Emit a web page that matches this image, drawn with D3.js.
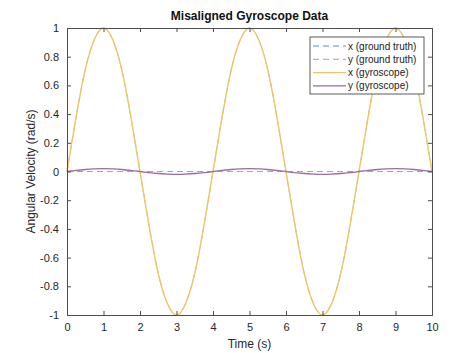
<!DOCTYPE html>
<html>
<head>
<meta charset="utf-8">
<script src="https://cdn.jsdelivr.net/npm/d3@7"></script>
<style>
  html, body { margin: 0; padding: 0; background: #fff; }
  svg { display: block; font-family: "Liberation Sans", Arial, sans-serif; }
</style>
</head>
<body>
<div id="chart"></div>
<script>
'use strict';

const time = d3.range(0, 10.001, 0.25);
const xGyro = [
  0, 0.38, 0.71, 0.92, 1, 0.92, 0.71, 0.38, 0, -0.38, -0.71, -0.92, -1, -0.92, -0.71, -0.38,
  0, 0.38, 0.71, 0.92, 1, 0.92, 0.71, 0.38, 0, -0.38, -0.71, -0.92, -1, -0.92, -0.71, -0.38,
  0, 0.38, 0.71, 0.92, 1, 0.92, 0.71, 0.38, 0
];
const yGyro = [
  0, 0.008, 0.014, 0.018, 0.02, 0.018, 0.014, 0.008, 0, -0.008, -0.014, -0.018, -0.02, -0.018, -0.014, -0.008,
  0, 0.008, 0.014, 0.018, 0.02, 0.018, 0.014, 0.008, 0, -0.008, -0.014, -0.018, -0.02, -0.018, -0.014, -0.008,
  0, 0.008, 0.014, 0.018, 0.02, 0.018, 0.014, 0.008, 0
];
const xTruth = xGyro.slice();
const yTruth = time.map(() => 0);

const xTicks = [0, 1, 2, 3, 4, 5, 6, 7, 8, 9, 10];
const yTicks = [-1, -0.8, -0.6, -0.4, -0.2, 0, 0.2, 0.4, 0.6, 0.8, 1];

const series = [
  { name: 'x (ground truth)', values: xTruth, color: '#5f8fb8', dash: '6,4', width: 0.6, legendW: 1 },
  { name: 'y (ground truth)', values: yTruth, color: '#d8917f', dash: '6,4', width: 1,   legendW: 1 },
  { name: 'x (gyroscope)',    values: xGyro,  color: '#ecc665', dash: null,  width: 1.4, legendW: 1.2 },
  { name: 'y (gyroscope)',    values: yGyro,  color: '#9a6aa6', dash: null,  width: 1.3, legendW: 1.2 },
];

// ─── Layout ────────────────────────────────────────────────────────────────
const W = 474, H = 353;
const M = { left: 67, top: 28, right: 42, bottom: 38 };
const innerW = W - M.left - M.right;
const innerH = H - M.top - M.bottom;

const x = d3.scaleLinear().domain([0, 10]).range([0, innerW]);
const y = d3.scaleLinear().domain([-1, 1]).range([innerH, 0]);

const svg = d3.select('#chart').append('svg').attr('width', W).attr('height', H);
const g = svg.append('g').attr('transform', `translate(${M.left},${M.top})`);

// ─── Lines ─────────────────────────────────────────────────────────────────
const line = d3.line()
  .x((d, i) => x(time[i]))
  .y(d => y(d))
  .curve(d3.curveNatural);

series.forEach(s => {
  g.append('path')
    .datum(s.values)
    .attr('fill', 'none')
    .attr('stroke', s.color)
    .attr('stroke-width', s.width)
    .attr('stroke-dasharray', s.dash)
    .attr('d', line);
});

// ─── Axes (MATLAB style: ticks inside, box on) ─────────────────────────────
const axisColor = '#4d4d4d';
const fmt = d => String(Math.round(d * 10) / 10);

const axB = g.append('g').attr('transform', `translate(0,${innerH})`)
  .call(d3.axisBottom(x).tickValues(xTicks).tickSize(-4).tickPadding(8).tickFormat(fmt));
const axT = g.append('g')
  .call(d3.axisTop(x).tickValues(xTicks).tickSize(-4).tickFormat(''));
const axL = g.append('g')
  .call(d3.axisLeft(y).tickValues(yTicks).tickSize(-4).tickPadding(8).tickFormat(fmt));
const axR = g.append('g').attr('transform', `translate(${innerW},0)`)
  .call(d3.axisRight(y).tickValues(yTicks).tickSize(-4).tickFormat(''));

[axB, axT, axL, axR].forEach(a => {
  a.select('.domain').attr('stroke', axisColor).attr('stroke-width', 1);
  a.selectAll('.tick line').attr('stroke', axisColor);
  a.selectAll('.tick text').attr('fill', '#262626').attr('font-size', 11)
    .attr('font-family', '"Liberation Sans", Arial, sans-serif');
});

// ─── Titles ────────────────────────────────────────────────────────────────
svg.append('text')
  .attr('x', M.left + innerW / 2).attr('y', 20)
  .attr('text-anchor', 'middle')
  .attr('font-size', 12).attr('font-weight', 'bold').attr('fill', '#111')
  .text('Misaligned Gyroscope Data');

svg.append('text')
  .attr('x', M.left + innerW / 2).attr('y', 348)
  .attr('text-anchor', 'middle')
  .attr('font-size', 12).attr('fill', '#262626')
  .text('Time (s)');

svg.append('text')
  .attr('transform', `translate(35,${M.top + innerH / 2}) rotate(-90)`)
  .attr('text-anchor', 'middle')
  .attr('font-size', 12).attr('fill', '#262626')
  .text('Angular Velocity (rad/s)');

// ─── Legend ────────────────────────────────────────────────────────────────
const lg = svg.append('g').attr('transform', 'translate(310,37)');
lg.append('rect')
  .attr('width', 114).attr('height', 57)
  .attr('fill', '#fff').attr('stroke', '#333').attr('stroke-width', 0.8);

series.forEach((s, i) => {
  const yy = 9 + i * 13.3;
  lg.append('line')
    .attr('x1', 3).attr('x2', 36).attr('y1', yy).attr('y2', yy)
    .attr('stroke', s.color).attr('stroke-width', s.legendW)
    .attr('stroke-dasharray', s.dash);
  lg.append('text')
    .attr('x', 38).attr('y', yy).attr('dy', '0.35em')
    .attr('font-size', 10).attr('fill', '#222')
    .text(s.name);
});
</script>
</body>
</html>
